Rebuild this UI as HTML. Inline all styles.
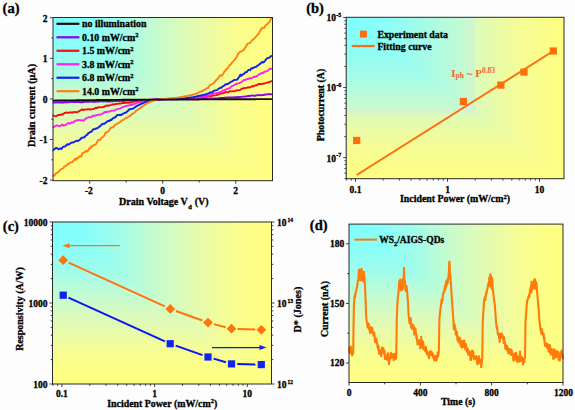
<!DOCTYPE html><html><head><meta charset="utf-8"><title>Figure</title><style>html,body{margin:0;padding:0;background:#fdfdfd;}body{width:575px;height:410px;overflow:hidden;font-family:"Liberation Serif",serif;}svg{display:block;}</style></head><body><svg width="575" height="410" viewBox="0 0 575 410" font-family='"Liberation Serif", serif'>
<defs>
<linearGradient id="gah" gradientUnits="userSpaceOnUse" x1="53" y1="0" x2="272.5" y2="0"><stop offset="0" stop-color="#80ffff"/><stop offset="0.15" stop-color="#88fef9"/><stop offset="0.3" stop-color="#a0fceb"/><stop offset="0.44" stop-color="#c0fcd4"/><stop offset="0.55" stop-color="#d6fbc1"/><stop offset="0.65" stop-color="#e4fbb0"/><stop offset="0.75" stop-color="#f1fc9d"/><stop offset="0.85" stop-color="#fafe8c"/><stop offset="1" stop-color="#ffff80"/></linearGradient>
<linearGradient id="gav" gradientUnits="userSpaceOnUse" x1="0" y1="17.5" x2="0" y2="180.7"><stop offset="0" stop-color="#80ffff"/><stop offset="0.15" stop-color="#88fef9"/><stop offset="0.3" stop-color="#a0fceb"/><stop offset="0.44" stop-color="#c0fcd4"/><stop offset="0.55" stop-color="#d6fbc1"/><stop offset="0.65" stop-color="#e4fbb0"/><stop offset="0.75" stop-color="#f1fc9d"/><stop offset="0.85" stop-color="#fafe8c"/><stop offset="1" stop-color="#ffff80"/></linearGradient>
<linearGradient id="gbh" gradientUnits="userSpaceOnUse" x1="346.2" y1="0" x2="564" y2="0"><stop offset="0" stop-color="#80ffff"/><stop offset="0.15" stop-color="#88fefa"/><stop offset="0.3" stop-color="#9cfcee"/><stop offset="0.45" stop-color="#b4fbde"/><stop offset="0.585" stop-color="#ccfacb"/><stop offset="0.595" stop-color="#dbfbbb"/><stop offset="0.7" stop-color="#ebfba5"/><stop offset="0.8" stop-color="#f5fc96"/><stop offset="0.9" stop-color="#fafd8a"/><stop offset="1" stop-color="#fefe82"/></linearGradient>
<linearGradient id="gbv" gradientUnits="userSpaceOnUse" x1="0" y1="17.3" x2="0" y2="178.7"><stop offset="0" stop-color="#80ffff"/><stop offset="0.15" stop-color="#88fefa"/><stop offset="0.3" stop-color="#9cfcee"/><stop offset="0.45" stop-color="#b4fbde"/><stop offset="0.585" stop-color="#ccfacb"/><stop offset="0.595" stop-color="#dbfbbb"/><stop offset="0.7" stop-color="#ebfba5"/><stop offset="0.8" stop-color="#f5fc96"/><stop offset="0.9" stop-color="#fafd8a"/><stop offset="1" stop-color="#fefe82"/></linearGradient>
<linearGradient id="gch" gradientUnits="userSpaceOnUse" x1="52.5" y1="0" x2="271.5" y2="0"><stop offset="0" stop-color="#80ffff"/><stop offset="0.15" stop-color="#88fef9"/><stop offset="0.3" stop-color="#a0fceb"/><stop offset="0.44" stop-color="#c0fcd4"/><stop offset="0.55" stop-color="#d6fbc1"/><stop offset="0.65" stop-color="#e4fbb0"/><stop offset="0.75" stop-color="#f1fc9d"/><stop offset="0.85" stop-color="#fafe8c"/><stop offset="1" stop-color="#ffff80"/></linearGradient>
<linearGradient id="gcv" gradientUnits="userSpaceOnUse" x1="0" y1="222" x2="0" y2="384"><stop offset="0" stop-color="#80ffff"/><stop offset="0.15" stop-color="#88fef9"/><stop offset="0.3" stop-color="#a0fceb"/><stop offset="0.44" stop-color="#c0fcd4"/><stop offset="0.55" stop-color="#d6fbc1"/><stop offset="0.65" stop-color="#e4fbb0"/><stop offset="0.75" stop-color="#f1fc9d"/><stop offset="0.85" stop-color="#fafe8c"/><stop offset="1" stop-color="#ffff80"/></linearGradient>
<linearGradient id="gdh" gradientUnits="userSpaceOnUse" x1="349" y1="0" x2="563" y2="0"><stop offset="0" stop-color="#80ffff"/><stop offset="0.15" stop-color="#88fef9"/><stop offset="0.3" stop-color="#a0fceb"/><stop offset="0.44" stop-color="#c0fcd4"/><stop offset="0.55" stop-color="#d6fbc1"/><stop offset="0.65" stop-color="#e4fbb0"/><stop offset="0.75" stop-color="#f1fc9d"/><stop offset="0.85" stop-color="#fafe8c"/><stop offset="1" stop-color="#ffff80"/></linearGradient>
<linearGradient id="gdv" gradientUnits="userSpaceOnUse" x1="0" y1="224.1" x2="0" y2="382.5"><stop offset="0" stop-color="#80ffff"/><stop offset="0.15" stop-color="#88fef9"/><stop offset="0.3" stop-color="#a0fceb"/><stop offset="0.44" stop-color="#c0fcd4"/><stop offset="0.55" stop-color="#d6fbc1"/><stop offset="0.65" stop-color="#e4fbb0"/><stop offset="0.75" stop-color="#f1fc9d"/><stop offset="0.85" stop-color="#fafe8c"/><stop offset="1" stop-color="#ffff80"/></linearGradient>
</defs>
<rect width="575" height="410" fill="#fdfdfd"/>
<rect x="53" y="17.5" width="219.5" height="163.2" fill="url(#gah)"/>
<polygon points="53,17.5 53,180.7 272.5,180.7" fill="url(#gav)"/>
<rect x="346.2" y="17.3" width="217.8" height="161.4" fill="url(#gbh)"/>
<polygon points="346.2,17.3 346.2,178.7 564,178.7" fill="url(#gbv)"/>
<rect x="52.5" y="222" width="219" height="162" fill="url(#gch)"/>
<polygon points="52.5,222 52.5,384 271.5,384" fill="url(#gcv)"/>
<rect x="349" y="224.1" width="214" height="158.4" fill="url(#gdh)"/>
<polygon points="349,224.1 349,382.5 563,382.5" fill="url(#gdv)"/>
<polyline points="471.3,17.8 471.3,111.3 346.7,111.3" fill="none" stroke="#e2e8da" stroke-opacity="0.35" stroke-width="6"/>
<polyline points="53.3,102.55 54.3,102.63 55.3,102.54 56.3,102.47 57.3,102.33 58.3,102.35 59.3,102.55 60.3,102.55 61.3,102.63 62.3,102.55 63.3,102.51 64.3,102.45 65.3,102.13 66.3,102.32 67.3,102.37 68.3,102.38 69.3,102.05 70.3,101.85 71.3,101.86 72.3,101.92 73.3,102.05 74.3,102.07 75.3,102.15 76.3,102.01 77.3,102.07 78.3,102.1 79.3,101.95 80.3,102.22 81.3,102.18 82.3,102.24 83.3,102 84.3,101.83 85.3,101.79 86.3,101.8 87.3,101.9 88.3,101.89 89.3,101.77 90.3,101.61 91.3,101.58 92.3,101.82 93.3,101.63 94.3,101.68 95.3,101.71 96.3,101.46 97.3,101.52 98.3,101.71 99.3,101.36 100.3,101.38 101.3,101.41 102.3,101.33 103.3,101.44 104.3,101.41 105.3,101.22 106.3,101.38 107.3,101.43 108.3,101.48 109.3,101.54 110.3,101.45 111.3,101.35 112.3,101.14 113.3,101.21 114.3,101.11 115.3,101.06 116.3,100.94 117.3,100.89 118.3,100.89 119.3,101.04 120.3,100.82 121.3,100.73 122.3,100.81 123.3,100.94 124.3,100.92 125.3,100.71 126.3,100.53 127.3,100.63 128.3,100.59 129.3,100.53 130.3,100.62 131.3,100.65 132.3,100.6 133.3,100.56 134.3,100.53 135.3,100.55 136.3,100.5 137.3,100.45 138.3,100.4 139.3,100.26 140.3,100.29 141.3,100.28 142.3,100.24 143.3,100.1 144.3,100.06 145.3,100.08 146.3,99.98 147.3,99.97 148.3,99.97 149.3,99.9 150.3,99.92 151.3,99.88 152.3,99.84 153.3,99.8 154.3,99.77 155.3,99.74 156.3,99.71 157.3,99.67 158.3,99.64 159.3,99.61 160.3,99.58 161.3,99.55 162.3,99.52 163.3,99.49 164.3,99.47 165.3,99.44 166.3,99.42 167.3,99.39 168.3,99.37 169.3,99.34 170.3,99.32 171.3,99.3 172.3,99.28 173.3,99.26 174.3,99.24 175.3,99.22 176.3,99.2 177.3,99.18 178.3,99.16 179.3,99.15 180.3,99.13 181.3,99.11 182.3,99.09 183.3,99.08 184.3,99.06 185.3,99.04 186.3,99.03 187.3,99.02 188.3,99 189.3,98.98 190.3,98.95 191.3,98.94 192.3,98.94 193.3,98.91 194.3,98.9 195.3,98.93 196.3,98.81 197.3,98.78 198.3,98.8 199.3,98.8 200.3,98.79 201.3,98.75 202.3,98.77 203.3,98.75 204.3,98.69 205.3,98.81 206.3,98.75 207.3,98.66 208.3,98.62 209.3,98.58 210.3,98.56 211.3,98.35 212.3,98.37 213.3,98.49 214.3,98.36 215.3,98.35 216.3,98.4 217.3,98.39 218.3,98.42 219.3,98.11 220.3,98.03 221.3,97.95 222.3,97.97 223.3,98.01 224.3,97.6 225.3,97.75 226.3,97.53 227.3,97.61 228.3,97.38 229.3,97.42 230.3,97.53 231.3,97.4 232.3,97.35 233.3,97.37 234.3,97.26 235.3,97.14 236.3,97.27 237.3,97.24 238.3,97.01 239.3,97.29 240.3,96.84 241.3,96.87 242.3,96.67 243.3,96.59 244.3,96.59 245.3,96.48 246.3,96.45 247.3,96.07 248.3,95.82 249.3,95.96 250.3,95.77 251.3,95.61 252.3,95.41 253.3,95.68 254.3,95.7 255.3,95.78 256.3,95.42 257.3,95.32 258.3,95.06 259.3,95.15 260.3,95.29 261.3,94.94 262.3,95.08 263.3,95.03 264.3,94.78 265.3,94.34 266.3,94.55 267.3,94.41 268.3,94.21 269.3,94.21 270.3,94.17 271.3,94.27" fill="none" stroke="#8a00f0" stroke-width="1.9" stroke-linejoin="round" stroke-linecap="round" />
<polyline points="53.3,115.58 54.3,115.94 55.3,116.17 56.3,116.19 57.3,115.54 58.3,114.89 59.3,115.05 60.3,114.74 61.3,114.47 62.3,114.69 63.3,114.13 64.3,113.02 65.3,112.98 66.3,112.36 67.3,112.86 68.3,112.88 69.3,112.47 70.3,112.37 71.3,112.53 72.3,112.27 73.3,112.48 74.3,112.02 75.3,112.08 76.3,112.2 77.3,112.22 78.3,111.36 79.3,111.36 80.3,110.32 81.3,109.95 82.3,109.37 83.3,110.04 84.3,109.53 85.3,109.61 86.3,109.51 87.3,109.45 88.3,109.14 89.3,109.19 90.3,109.69 91.3,109.27 92.3,109.13 93.3,109.14 94.3,108.66 95.3,107.96 96.3,107.73 97.3,108.04 98.3,107.26 99.3,107.08 100.3,107.39 101.3,107.4 102.3,107.08 103.3,107.05 104.3,106.75 105.3,106.13 106.3,105.6 107.3,105.48 108.3,105.74 109.3,105.41 110.3,105.07 111.3,104.84 112.3,104.45 113.3,104.51 114.3,104.22 115.3,104.34 116.3,103.73 117.3,103.93 118.3,103.76 119.3,103.33 120.3,103.58 121.3,103.45 122.3,102.93 123.3,102.85 124.3,102.96 125.3,102.81 126.3,102.88 127.3,102.85 128.3,102.74 129.3,102.56 130.3,102.54 131.3,102.35 132.3,102.15 133.3,101.62 134.3,101.66 135.3,101.66 136.3,101.4 137.3,101.16 138.3,101.24 139.3,100.82 140.3,100.76 141.3,100.85 142.3,100.53 143.3,100.45 144.3,100.44 145.3,100.23 146.3,100.12 147.3,100.04 148.3,99.84 149.3,99.75 150.3,99.68 151.3,99.64 152.3,99.55 153.3,99.47 154.3,99.38 155.3,99.33 156.3,99.31 157.3,99.27 158.3,99.22 159.3,99.19 160.3,99.16 161.3,99.14 162.3,99.11 163.3,99.09 164.3,99.07 165.3,99.06 166.3,99.04 167.3,99.03 168.3,99.02 169.3,99.01 170.3,99 171.3,99 172.3,98.99 173.3,98.98 174.3,98.97 175.3,98.97 176.3,98.96 177.3,98.94 178.3,98.93 179.3,98.91 180.3,98.89 181.3,98.88 182.3,98.86 183.3,98.84 184.3,98.83 185.3,98.8 186.3,98.8 187.3,98.78 188.3,98.78 189.3,98.74 190.3,98.65 191.3,98.61 192.3,98.45 193.3,98.39 194.3,98.34 195.3,98.31 196.3,98.14 197.3,98.04 198.3,97.97 199.3,97.86 200.3,97.76 201.3,97.61 202.3,97.4 203.3,97.35 204.3,97.17 205.3,96.9 206.3,96.71 207.3,96.62 208.3,96.48 209.3,96.37 210.3,96.2 211.3,96.06 212.3,95.83 213.3,95.41 214.3,95.38 215.3,95.39 216.3,95.18 217.3,94.85 218.3,94.69 219.3,94.2 220.3,93.62 221.3,93.62 222.3,93.29 223.3,93.39 224.3,92.9 225.3,92.12 226.3,91.98 227.3,92.48 228.3,92.12 229.3,91.54 230.3,91.27 231.3,91.38 232.3,91.32 233.3,91.08 234.3,91.22 235.3,90.95 236.3,90.45 237.3,90.26 238.3,90.38 239.3,90.11 240.3,89.86 241.3,88.87 242.3,88.53 243.3,88.53 244.3,88.04 245.3,88.13 246.3,87.88 247.3,87.72 248.3,87.12 249.3,87.62 250.3,87.32 251.3,86.52 252.3,86.07 253.3,86.58 254.3,85.72 255.3,85.56 256.3,85.41 257.3,84.89 258.3,84.09 259.3,84.03 260.3,83.97 261.3,84.11 262.3,83.97 263.3,83.54 264.3,83.5 265.3,83.27 266.3,82.94 267.3,82.6 268.3,82.21 269.3,82.23 270.3,81.53 271.3,81.19" fill="none" stroke="#f01010" stroke-width="1.9" stroke-linejoin="round" stroke-linecap="round" />
<polyline points="53.3,127.43 54.3,126.52 55.3,126.38 56.3,125.48 57.3,125.48 58.3,125.93 59.3,126.08 60.3,125.77 61.3,125.41 62.3,124.57 63.3,125.46 64.3,125.25 65.3,125.29 66.3,124.31 67.3,123.97 68.3,122.93 69.3,123.42 70.3,123.64 71.3,122.36 72.3,122.37 73.3,122.56 74.3,121.46 75.3,120.7 76.3,120.5 77.3,120.45 78.3,119.94 79.3,120.17 80.3,120.26 81.3,120.35 82.3,120.29 83.3,120.48 84.3,120.29 85.3,118.94 86.3,118.41 87.3,117.74 88.3,117.22 89.3,117.24 90.3,117.16 91.3,117.19 92.3,116.15 93.3,115.6 94.3,115.7 95.3,115.55 96.3,115.29 97.3,115.11 98.3,114.61 99.3,114.79 100.3,114.62 101.3,114.22 102.3,113.65 103.3,113.4 104.3,112.2 105.3,112.05 106.3,112.2 107.3,111.62 108.3,111.75 109.3,111.67 110.3,110.99 111.3,110.85 112.3,110.61 113.3,110.58 114.3,110.46 115.3,110.04 116.3,109.43 117.3,109.15 118.3,108.86 119.3,108.75 120.3,108.42 121.3,107.83 122.3,107.2 123.3,106.94 124.3,106.57 125.3,106.13 126.3,105.98 127.3,105.67 128.3,105.49 129.3,105.33 130.3,104.92 131.3,105.07 132.3,104.51 133.3,104.32 134.3,103.91 135.3,103.71 136.3,102.91 137.3,102.6 138.3,102.46 139.3,102.3 140.3,102.31 141.3,101.94 142.3,101.74 143.3,101.46 144.3,101.23 145.3,100.97 146.3,100.68 147.3,100.52 148.3,100.23 149.3,100.19 150.3,99.96 151.3,99.86 152.3,99.85 153.3,99.68 154.3,99.57 155.3,99.51 156.3,99.42 157.3,99.33 158.3,99.28 159.3,99.23 160.3,99.19 161.3,99.15 162.3,99.12 163.3,99.09 164.3,99.07 165.3,99.05 166.3,99.03 167.3,99.02 168.3,99.01 169.3,99 170.3,99 171.3,99 172.3,98.99 173.3,98.99 174.3,98.98 175.3,98.98 176.3,98.97 177.3,98.95 178.3,98.94 179.3,98.92 180.3,98.89 181.3,98.87 182.3,98.84 183.3,98.81 184.3,98.79 185.3,98.75 186.3,98.72 187.3,98.65 188.3,98.66 189.3,98.64 190.3,98.5 191.3,98.36 192.3,98.22 193.3,98.27 194.3,98.13 195.3,98.02 196.3,97.87 197.3,97.73 198.3,97.47 199.3,97.36 200.3,97.03 201.3,96.92 202.3,96.82 203.3,96.69 204.3,96.4 205.3,96.01 206.3,95.84 207.3,95.5 208.3,95.57 209.3,95.33 210.3,94.89 211.3,94.45 212.3,94.02 213.3,93.61 214.3,93.41 215.3,93.35 216.3,93.24 217.3,93.04 218.3,93.16 219.3,92.29 220.3,91.83 221.3,92.21 222.3,90.87 223.3,90.35 224.3,90.09 225.3,89.76 226.3,89.47 227.3,88.89 228.3,88.58 229.3,88.09 230.3,87.87 231.3,86.55 232.3,85.95 233.3,85.71 234.3,84.92 235.3,84.23 236.3,84.28 237.3,83.52 238.3,83.41 239.3,83.16 240.3,82.61 241.3,82.18 242.3,81.46 243.3,80.28 244.3,80.07 245.3,80 246.3,79.34 247.3,79.01 248.3,79.04 249.3,78.16 250.3,78.19 251.3,78.59 252.3,77.55 253.3,77.12 254.3,76.56 255.3,76.82 256.3,76.21 257.3,75.95 258.3,74.9 259.3,74.42 260.3,73.97 261.3,72.72 262.3,73.28 263.3,73.13 264.3,71.65 265.3,71.75 266.3,71.19 267.3,70.93 268.3,70.51 269.3,69.16 270.3,68.7 271.3,68.93" fill="none" stroke="#ff22ee" stroke-width="1.9" stroke-linejoin="round" stroke-linecap="round" />
<polyline points="53.3,150.14 54.3,149.28 55.3,148.44 56.3,147.9 57.3,148.37 58.3,149.28 59.3,148.85 60.3,148.34 61.3,149.09 62.3,147.69 63.3,146.65 64.3,146.63 65.3,146.46 66.3,145.24 67.3,144.3 68.3,144.47 69.3,144.34 70.3,143.13 71.3,142.92 72.3,142.39 73.3,142.47 74.3,141.94 75.3,141.42 76.3,140.73 77.3,140.94 78.3,141 79.3,139.72 80.3,139.47 81.3,138.1 82.3,137.57 83.3,137.41 84.3,137.49 85.3,136.12 86.3,135.26 87.3,134.67 88.3,133.04 89.3,132.77 90.3,131.92 91.3,131.79 92.3,130.55 93.3,129.1 94.3,129.2 95.3,129.1 96.3,128.31 97.3,128.37 98.3,127.48 99.3,126.51 100.3,126.25 101.3,124.76 102.3,124.1 103.3,123.77 104.3,123.71 105.3,122.9 106.3,122.38 107.3,121.36 108.3,120.95 109.3,121.05 110.3,119.8 111.3,120.16 112.3,118.82 113.3,118.11 114.3,117.55 115.3,117.35 116.3,116.15 117.3,114.97 118.3,115.12 119.3,115.06 120.3,114.76 121.3,115.07 122.3,114.21 123.3,113.56 124.3,113.19 125.3,112.61 126.3,112.44 127.3,111.29 128.3,110.67 129.3,109.26 130.3,109.38 131.3,108.89 132.3,108.69 133.3,108.6 134.3,107.8 135.3,107.06 136.3,106.36 137.3,105.67 138.3,105.09 139.3,104.79 140.3,104.29 141.3,103.8 142.3,103.3 143.3,102.99 144.3,102.58 145.3,102.1 146.3,101.78 147.3,101.37 148.3,100.91 149.3,100.79 150.3,100.53 151.3,100.17 152.3,100.04 153.3,99.84 154.3,99.59 155.3,99.55 156.3,99.45 157.3,99.39 158.3,99.32 159.3,99.26 160.3,99.22 161.3,99.18 162.3,99.14 163.3,99.09 164.3,99.04 165.3,98.99 166.3,98.95 167.3,98.91 168.3,98.88 169.3,98.84 170.3,98.81 171.3,98.78 172.3,98.75 173.3,98.72 174.3,98.69 175.3,98.65 176.3,98.62 177.3,98.58 178.3,98.54 179.3,98.5 180.3,98.45 181.3,98.4 182.3,98.34 183.3,98.28 184.3,98.21 185.3,98.14 186.3,98.08 187.3,97.95 188.3,97.83 189.3,97.74 190.3,97.55 191.3,97.47 192.3,97.36 193.3,97.15 194.3,97.03 195.3,96.66 196.3,96.62 197.3,96.21 198.3,95.99 199.3,95.77 200.3,95.56 201.3,95.53 202.3,95.25 203.3,94.86 204.3,94.68 205.3,94.66 206.3,94.14 207.3,93.77 208.3,93.61 209.3,93.11 210.3,92.23 211.3,92.6 212.3,92.57 213.3,91.11 214.3,90.69 215.3,90.4 216.3,90.22 217.3,89.81 218.3,89.04 219.3,88.1 220.3,87.79 221.3,87.76 222.3,86.69 223.3,85.9 224.3,85.65 225.3,84.49 226.3,84.34 227.3,83.94 228.3,83.89 229.3,83.06 230.3,82.22 231.3,81.7 232.3,81.29 233.3,80.44 234.3,80.03 235.3,79.89 236.3,79.75 237.3,79.66 238.3,77.91 239.3,76.84 240.3,74.73 241.3,75.87 242.3,74.63 243.3,74.07 244.3,73.81 245.3,72.24 246.3,72.19 247.3,71.57 248.3,69.86 249.3,69.9 250.3,70.18 251.3,68.21 252.3,68.44 253.3,67.92 254.3,67.5 255.3,66.96 256.3,66.9 257.3,65.67 258.3,65.38 259.3,64.17 260.3,63.92 261.3,62.57 262.3,61.97 263.3,62.46 264.3,61.66 265.3,60.55 266.3,59.04 267.3,58.1 268.3,57.83 269.3,57.67 270.3,56.8 271.3,55.92" fill="none" stroke="#1020f0" stroke-width="1.9" stroke-linejoin="round" stroke-linecap="round" />
<polyline points="53.3,175.54 54.3,175.71 55.3,174.23 56.3,172.95 57.3,172.9 58.3,171.94 59.3,170.82 60.3,169.65 61.3,168.88 62.3,168.74 63.3,168.14 64.3,166.38 65.3,166.24 66.3,165.66 67.3,164.2 68.3,164.31 69.3,163.31 70.3,162.4 71.3,162.37 72.3,162.39 73.3,160.66 74.3,160.17 75.3,158.64 76.3,159.72 77.3,158.02 78.3,157.95 79.3,156.31 80.3,156.1 81.3,156.65 82.3,153.31 83.3,152.62 84.3,152.57 85.3,151.8 86.3,150.64 87.3,151.64 88.3,150.39 89.3,148.16 90.3,148.32 91.3,146.25 92.3,146.74 93.3,145.44 94.3,144.83 95.3,144.84 96.3,143.66 97.3,141.61 98.3,139.84 99.3,140.2 100.3,139.65 101.3,137.93 102.3,137.49 103.3,136.55 104.3,135.64 105.3,133.04 106.3,132.23 107.3,131.98 108.3,131.29 109.3,130.56 110.3,128.04 111.3,127.58 112.3,127.12 113.3,127.48 114.3,125.71 115.3,124.73 116.3,124.07 117.3,123.8 118.3,122.83 119.3,122.7 120.3,121.59 121.3,121.15 122.3,120.36 123.3,119.93 124.3,119.12 125.3,118.09 126.3,118.18 127.3,117.66 128.3,116.77 129.3,116.19 130.3,115.78 131.3,114.64 132.3,113.92 133.3,113.37 134.3,112.71 135.3,111.78 136.3,110.51 137.3,110.27 138.3,109.59 139.3,108.82 140.3,108.02 141.3,107.38 142.3,106.61 143.3,105.8 144.3,105.12 145.3,104.5 146.3,103.9 147.3,103.24 148.3,102.87 149.3,102.23 150.3,101.88 151.3,101.35 152.3,101.02 153.3,100.77 154.3,100.45 155.3,100.13 156.3,99.92 157.3,99.74 158.3,99.56 159.3,99.43 160.3,99.31 161.3,99.2 162.3,99.08 163.3,98.96 164.3,98.86 165.3,98.78 166.3,98.72 167.3,98.67 168.3,98.62 169.3,98.57 170.3,98.52 171.3,98.46 172.3,98.37 173.3,98.26 174.3,98.14 175.3,98 176.3,97.86 177.3,97.7 178.3,97.54 179.3,97.37 180.3,97.19 181.3,97.01 182.3,96.83 183.3,96.64 184.3,96.46 185.3,96.28 186.3,96.11 187.3,95.94 188.3,95.73 189.3,95.56 190.3,95.18 191.3,95.06 192.3,94.83 193.3,94.53 194.3,94.15 195.3,93.95 196.3,93.54 197.3,93.26 198.3,92.81 199.3,92.06 200.3,91.82 201.3,91.51 202.3,91.2 203.3,90.38 204.3,89.82 205.3,89.34 206.3,88.61 207.3,88.15 208.3,87.76 209.3,86.32 210.3,84.8 211.3,84.46 212.3,84.12 213.3,83.35 214.3,82.49 215.3,81.08 216.3,79.83 217.3,79.35 218.3,77.91 219.3,76.28 220.3,75.25 221.3,75.79 222.3,75.37 223.3,73.43 224.3,71.78 225.3,70.78 226.3,69.15 227.3,68.76 228.3,67.25 229.3,65.32 230.3,65.09 231.3,63.4 232.3,62.43 233.3,61.26 234.3,59.93 235.3,59.11 236.3,57.51 237.3,55.38 238.3,53.45 239.3,52.5 240.3,51.81 241.3,51.44 242.3,50.79 243.3,50.28 244.3,49.19 245.3,47.45 246.3,46.05 247.3,43.8 248.3,43.42 249.3,43.16 250.3,42.55 251.3,41.25 252.3,39.99 253.3,39.57 254.3,38.18 255.3,37.4 256.3,36.35 257.3,34.98 258.3,34.45 259.3,32.32 260.3,30.76 261.3,29.05 262.3,27.59 263.3,27.91 264.3,27.71 265.3,25.87 266.3,24.74 267.3,24.06 268.3,22.96 269.3,22.26 270.3,19.79 271.3,18.5" fill="none" stroke="#ff7f10" stroke-width="1.9" stroke-linejoin="round" stroke-linecap="round" />
<polyline points="53.3,100.6 54.3,100.58 55.3,100.57 56.3,100.56 57.3,100.55 58.3,100.54 59.3,100.52 60.3,100.51 61.3,100.5 62.3,100.49 63.3,100.48 64.3,100.46 65.3,100.45 66.3,100.44 67.3,100.43 68.3,100.41 69.3,100.4 70.3,100.39 71.3,100.38 72.3,100.36 73.3,100.35 74.3,100.34 75.3,100.33 76.3,100.31 77.3,100.3 78.3,100.29 79.3,100.28 80.3,100.26 81.3,100.25 82.3,100.24 83.3,100.23 84.3,100.21 85.3,100.2 86.3,100.19 87.3,100.18 88.3,100.17 89.3,100.15 90.3,100.14 91.3,100.13 92.3,100.12 93.3,100.11 94.3,100.1 95.3,100.08 96.3,100.07 97.3,100.06 98.3,100.05 99.3,100.04 100.3,100.03 101.3,100.02 102.3,100.01 103.3,100 104.3,99.99 105.3,99.97 106.3,99.96 107.3,99.95 108.3,99.94 109.3,99.93 110.3,99.93 111.3,99.92 112.3,99.91 113.3,99.9 114.3,99.89 115.3,99.88 116.3,99.87 117.3,99.86 118.3,99.85 119.3,99.85 120.3,99.84 121.3,99.83 122.3,99.82 123.3,99.82 124.3,99.81 125.3,99.8 126.3,99.8 127.3,99.79 128.3,99.78 129.3,99.78 130.3,99.77 131.3,99.76 132.3,99.76 133.3,99.75 134.3,99.75 135.3,99.74 136.3,99.73 137.3,99.73 138.3,99.72 139.3,99.72 140.3,99.71 141.3,99.71 142.3,99.7 143.3,99.7 144.3,99.69 145.3,99.69 146.3,99.68 147.3,99.68 148.3,99.67 149.3,99.67 150.3,99.66 151.3,99.66 152.3,99.65 153.3,99.65 154.3,99.64 155.3,99.64 156.3,99.63 157.3,99.63 158.3,99.62 159.3,99.62 160.3,99.61 161.3,99.61 162.3,99.6 163.3,99.6 164.3,99.59 165.3,99.59 166.3,99.58 167.3,99.58 168.3,99.57 169.3,99.57 170.3,99.56 171.3,99.56 172.3,99.55 173.3,99.55 174.3,99.54 175.3,99.54 176.3,99.53 177.3,99.53 178.3,99.52 179.3,99.52 180.3,99.52 181.3,99.51 182.3,99.51 183.3,99.5 184.3,99.5 185.3,99.49 186.3,99.49 187.3,99.48 188.3,99.48 189.3,99.47 190.3,99.47 191.3,99.46 192.3,99.46 193.3,99.45 194.3,99.45 195.3,99.45 196.3,99.44 197.3,99.44 198.3,99.43 199.3,99.43 200.3,99.42 201.3,99.42 202.3,99.41 203.3,99.41 204.3,99.4 205.3,99.4 206.3,99.4 207.3,99.39 208.3,99.39 209.3,99.38 210.3,99.38 211.3,99.37 212.3,99.37 213.3,99.36 214.3,99.36 215.3,99.35 216.3,99.35 217.3,99.35 218.3,99.34 219.3,99.34 220.3,99.33 221.3,99.33 222.3,99.32 223.3,99.32 224.3,99.31 225.3,99.31 226.3,99.31 227.3,99.3 228.3,99.3 229.3,99.29 230.3,99.29 231.3,99.28 232.3,99.28 233.3,99.27 234.3,99.27 235.3,99.27 236.3,99.26 237.3,99.26 238.3,99.25 239.3,99.25 240.3,99.24 241.3,99.24 242.3,99.23 243.3,99.23 244.3,99.23 245.3,99.22 246.3,99.22 247.3,99.21 248.3,99.21 249.3,99.2 250.3,99.2 251.3,99.19 252.3,99.19 253.3,99.19 254.3,99.18 255.3,99.18 256.3,99.17 257.3,99.17 258.3,99.16 259.3,99.16 260.3,99.15 261.3,99.15 262.3,99.15 263.3,99.14 264.3,99.14 265.3,99.13 266.3,99.13 267.3,99.12 268.3,99.12 269.3,99.11 270.3,99.11 271.3,99.11" fill="none" stroke="#101010" stroke-width="1.9" stroke-linejoin="round" stroke-linecap="round" />
<line x1="56.5" y1="23.8" x2="79.4" y2="23.8" stroke="#101010" stroke-width="2.2"/>
<text x="82" y="27.2" font-size="9.9" text-anchor="start" fill="#000" stroke="#000" stroke-width="0.3" font-weight="bold" >no illumination</text>
<line x1="56.5" y1="37.28" x2="79.4" y2="37.28" stroke="#8a00f0" stroke-width="2.2"/>
<text x="82" y="40.68" font-size="9.9" text-anchor="start" fill="#000" stroke="#000" stroke-width="0.3" font-weight="bold" >0.10 mW/cm<tspan dy="-3.5" font-size="6.5">2</tspan></text>
<line x1="56.5" y1="50.76" x2="79.4" y2="50.76" stroke="#f01010" stroke-width="2.2"/>
<text x="82" y="54.16" font-size="9.9" text-anchor="start" fill="#000" stroke="#000" stroke-width="0.3" font-weight="bold" >1.5 mW/cm<tspan dy="-3.5" font-size="6.5">2</tspan></text>
<line x1="56.5" y1="64.24" x2="79.4" y2="64.24" stroke="#ff22ee" stroke-width="2.2"/>
<text x="82" y="67.64" font-size="9.9" text-anchor="start" fill="#000" stroke="#000" stroke-width="0.3" font-weight="bold" >3.8 mW/cm<tspan dy="-3.5" font-size="6.5">2</tspan></text>
<line x1="56.5" y1="77.72" x2="79.4" y2="77.72" stroke="#1020f0" stroke-width="2.2"/>
<text x="82" y="81.12" font-size="9.9" text-anchor="start" fill="#000" stroke="#000" stroke-width="0.3" font-weight="bold" >6.8 mW/cm<tspan dy="-3.5" font-size="6.5">2</tspan></text>
<line x1="56.5" y1="91.2" x2="79.4" y2="91.2" stroke="#ff7f10" stroke-width="2.2"/>
<text x="82" y="94.6" font-size="9.9" text-anchor="start" fill="#000" stroke="#000" stroke-width="0.3" font-weight="bold" >14.0 mW/cm<tspan dy="-3.5" font-size="6.5">2</tspan></text>
<line x1="50" y1="180.1" x2="53" y2="180.1" stroke="#2a2a2a" stroke-width="0.9"/>
<text x="47.4" y="184" font-size="9.5" text-anchor="end" fill="#000" stroke="#000" stroke-width="0.3" font-weight="bold" >-2</text>
<line x1="50" y1="139.5" x2="53" y2="139.5" stroke="#2a2a2a" stroke-width="0.9"/>
<text x="47.4" y="143.4" font-size="9.5" text-anchor="end" fill="#000" stroke="#000" stroke-width="0.3" font-weight="bold" >-1</text>
<line x1="50" y1="98.9" x2="53" y2="98.9" stroke="#2a2a2a" stroke-width="0.9"/>
<text x="47.4" y="102.8" font-size="9.5" text-anchor="end" fill="#000" stroke="#000" stroke-width="0.3" font-weight="bold" >0</text>
<line x1="50" y1="58.3" x2="53" y2="58.3" stroke="#2a2a2a" stroke-width="0.9"/>
<text x="47.4" y="62.2" font-size="9.5" text-anchor="end" fill="#000" stroke="#000" stroke-width="0.3" font-weight="bold" >1</text>
<line x1="50" y1="17.7" x2="53" y2="17.7" stroke="#2a2a2a" stroke-width="0.9"/>
<text x="47.4" y="21.6" font-size="9.5" text-anchor="end" fill="#000" stroke="#000" stroke-width="0.3" font-weight="bold" >2</text>
<line x1="51.2" y1="159.8" x2="53" y2="159.8" stroke="#2a2a2a" stroke-width="0.9"/>
<line x1="51.2" y1="119.2" x2="53" y2="119.2" stroke="#2a2a2a" stroke-width="0.9"/>
<line x1="51.2" y1="78.6" x2="53" y2="78.6" stroke="#2a2a2a" stroke-width="0.9"/>
<line x1="51.2" y1="38" x2="53" y2="38" stroke="#2a2a2a" stroke-width="0.9"/>
<line x1="89.7" y1="180.7" x2="89.7" y2="183.7" stroke="#2a2a2a" stroke-width="0.9"/>
<text x="88.9" y="194.4" font-size="9.5" text-anchor="middle" fill="#000" stroke="#000" stroke-width="0.3" font-weight="bold" >-2</text>
<line x1="162.7" y1="180.7" x2="162.7" y2="183.7" stroke="#2a2a2a" stroke-width="0.9"/>
<text x="162.7" y="194.4" font-size="9.5" text-anchor="middle" fill="#000" stroke="#000" stroke-width="0.3" font-weight="bold" >0</text>
<line x1="235.7" y1="180.7" x2="235.7" y2="183.7" stroke="#2a2a2a" stroke-width="0.9"/>
<text x="235.7" y="194.4" font-size="9.5" text-anchor="middle" fill="#000" stroke="#000" stroke-width="0.3" font-weight="bold" >2</text>
<line x1="126.2" y1="180.7" x2="126.2" y2="182.5" stroke="#2a2a2a" stroke-width="0.9"/>
<line x1="199.2" y1="180.7" x2="199.2" y2="182.5" stroke="#2a2a2a" stroke-width="0.9"/>
<text x="163.8" y="205.4" font-size="10.0" text-anchor="middle" fill="#000" stroke="#000" stroke-width="0.3" font-weight="bold" >Drain Voltage V<tspan dx="0.4" dy="3.2" font-size="6.5">d</tspan><tspan dx="0.3" dy="-3.2"> (V)</tspan></text>
<text transform="translate(35 105.5) rotate(-90)" x="0" y="0" font-size="10.2" text-anchor="middle" fill="#000" stroke="#000" stroke-width="0.3" font-weight="bold">Drain current (&#956;A)</text>
<text x="2.6" y="13.1" font-size="14.5" text-anchor="start" fill="#000" stroke="#000" stroke-width="0.3" font-weight="bold" >(a)</text>
<line x1="343.2" y1="157.6" x2="346.2" y2="157.6" stroke="#2a2a2a" stroke-width="0.9"/>
<text x="341.2" y="161.5" font-size="9.5" text-anchor="end" fill="#000" stroke="#000" stroke-width="0.3" font-weight="bold" >10<tspan dx="0.3" dy="-4.3" font-size="6">-7</tspan></text>
<line x1="343.2" y1="87.55" x2="346.2" y2="87.55" stroke="#2a2a2a" stroke-width="0.9"/>
<text x="341.2" y="91.45" font-size="9.5" text-anchor="end" fill="#000" stroke="#000" stroke-width="0.3" font-weight="bold" >10<tspan dx="0.3" dy="-4.3" font-size="6">-6</tspan></text>
<line x1="343.2" y1="17.5" x2="346.2" y2="17.5" stroke="#2a2a2a" stroke-width="0.9"/>
<text x="341.2" y="21.4" font-size="9.5" text-anchor="end" fill="#000" stroke="#000" stroke-width="0.3" font-weight="bold" >10<tspan dx="0.3" dy="-4.3" font-size="6">-5</tspan></text>
<line x1="344.4" y1="178.69" x2="346.2" y2="178.69" stroke="#2a2a2a" stroke-width="0.9"/>
<line x1="344.4" y1="173.14" x2="346.2" y2="173.14" stroke="#2a2a2a" stroke-width="0.9"/>
<line x1="344.4" y1="168.45" x2="346.2" y2="168.45" stroke="#2a2a2a" stroke-width="0.9"/>
<line x1="344.4" y1="164.39" x2="346.2" y2="164.39" stroke="#2a2a2a" stroke-width="0.9"/>
<line x1="344.4" y1="160.81" x2="346.2" y2="160.81" stroke="#2a2a2a" stroke-width="0.9"/>
<line x1="344.4" y1="136.51" x2="346.2" y2="136.51" stroke="#2a2a2a" stroke-width="0.9"/>
<line x1="344.4" y1="124.18" x2="346.2" y2="124.18" stroke="#2a2a2a" stroke-width="0.9"/>
<line x1="344.4" y1="115.43" x2="346.2" y2="115.43" stroke="#2a2a2a" stroke-width="0.9"/>
<line x1="344.4" y1="108.64" x2="346.2" y2="108.64" stroke="#2a2a2a" stroke-width="0.9"/>
<line x1="344.4" y1="103.09" x2="346.2" y2="103.09" stroke="#2a2a2a" stroke-width="0.9"/>
<line x1="344.4" y1="98.4" x2="346.2" y2="98.4" stroke="#2a2a2a" stroke-width="0.9"/>
<line x1="344.4" y1="94.34" x2="346.2" y2="94.34" stroke="#2a2a2a" stroke-width="0.9"/>
<line x1="344.4" y1="90.76" x2="346.2" y2="90.76" stroke="#2a2a2a" stroke-width="0.9"/>
<line x1="344.4" y1="66.46" x2="346.2" y2="66.46" stroke="#2a2a2a" stroke-width="0.9"/>
<line x1="344.4" y1="54.13" x2="346.2" y2="54.13" stroke="#2a2a2a" stroke-width="0.9"/>
<line x1="344.4" y1="45.38" x2="346.2" y2="45.38" stroke="#2a2a2a" stroke-width="0.9"/>
<line x1="344.4" y1="38.59" x2="346.2" y2="38.59" stroke="#2a2a2a" stroke-width="0.9"/>
<line x1="344.4" y1="33.04" x2="346.2" y2="33.04" stroke="#2a2a2a" stroke-width="0.9"/>
<line x1="344.4" y1="28.35" x2="346.2" y2="28.35" stroke="#2a2a2a" stroke-width="0.9"/>
<line x1="344.4" y1="24.29" x2="346.2" y2="24.29" stroke="#2a2a2a" stroke-width="0.9"/>
<line x1="344.4" y1="20.71" x2="346.2" y2="20.71" stroke="#2a2a2a" stroke-width="0.9"/>
<line x1="355.5" y1="178.7" x2="355.5" y2="181.7" stroke="#2a2a2a" stroke-width="0.9"/>
<text x="355.5" y="192.6" font-size="9.5" text-anchor="middle" fill="#000" stroke="#000" stroke-width="0.3" font-weight="bold" >0.1</text>
<line x1="447.5" y1="178.7" x2="447.5" y2="181.7" stroke="#2a2a2a" stroke-width="0.9"/>
<text x="447.5" y="192.6" font-size="9.5" text-anchor="middle" fill="#000" stroke="#000" stroke-width="0.3" font-weight="bold" >1</text>
<line x1="539.5" y1="178.7" x2="539.5" y2="181.7" stroke="#2a2a2a" stroke-width="0.9"/>
<text x="539.5" y="192.6" font-size="9.5" text-anchor="middle" fill="#000" stroke="#000" stroke-width="0.3" font-weight="bold" >10</text>
<line x1="346.58" y1="178.7" x2="346.58" y2="180.5" stroke="#2a2a2a" stroke-width="0.9"/>
<line x1="351.29" y1="178.7" x2="351.29" y2="180.5" stroke="#2a2a2a" stroke-width="0.9"/>
<line x1="383.19" y1="178.7" x2="383.19" y2="180.5" stroke="#2a2a2a" stroke-width="0.9"/>
<line x1="399.4" y1="178.7" x2="399.4" y2="180.5" stroke="#2a2a2a" stroke-width="0.9"/>
<line x1="410.89" y1="178.7" x2="410.89" y2="180.5" stroke="#2a2a2a" stroke-width="0.9"/>
<line x1="419.81" y1="178.7" x2="419.81" y2="180.5" stroke="#2a2a2a" stroke-width="0.9"/>
<line x1="427.09" y1="178.7" x2="427.09" y2="180.5" stroke="#2a2a2a" stroke-width="0.9"/>
<line x1="433.25" y1="178.7" x2="433.25" y2="180.5" stroke="#2a2a2a" stroke-width="0.9"/>
<line x1="438.58" y1="178.7" x2="438.58" y2="180.5" stroke="#2a2a2a" stroke-width="0.9"/>
<line x1="443.29" y1="178.7" x2="443.29" y2="180.5" stroke="#2a2a2a" stroke-width="0.9"/>
<line x1="475.19" y1="178.7" x2="475.19" y2="180.5" stroke="#2a2a2a" stroke-width="0.9"/>
<line x1="491.4" y1="178.7" x2="491.4" y2="180.5" stroke="#2a2a2a" stroke-width="0.9"/>
<line x1="502.89" y1="178.7" x2="502.89" y2="180.5" stroke="#2a2a2a" stroke-width="0.9"/>
<line x1="511.81" y1="178.7" x2="511.81" y2="180.5" stroke="#2a2a2a" stroke-width="0.9"/>
<line x1="519.09" y1="178.7" x2="519.09" y2="180.5" stroke="#2a2a2a" stroke-width="0.9"/>
<line x1="525.25" y1="178.7" x2="525.25" y2="180.5" stroke="#2a2a2a" stroke-width="0.9"/>
<line x1="530.58" y1="178.7" x2="530.58" y2="180.5" stroke="#2a2a2a" stroke-width="0.9"/>
<line x1="535.29" y1="178.7" x2="535.29" y2="180.5" stroke="#2a2a2a" stroke-width="0.9"/>
<text x="455" y="202.4" font-size="9.9" text-anchor="middle" fill="#000" stroke="#000" stroke-width="0.3" font-weight="bold" >Incident Power (mW/cm<tspan dy="-3.5" font-size="6.5">2</tspan><tspan dy="3.5">)</tspan></text>
<text transform="translate(323.6 105) rotate(-90)" x="0" y="0" font-size="9.9" text-anchor="middle" fill="#000" stroke="#000" stroke-width="0.3" font-weight="bold">Photocurrent (A)</text>
<text x="306.2" y="12.9" font-size="14.5" text-anchor="start" fill="#000" stroke="#000" stroke-width="0.3" font-weight="bold" >(b)</text>
<line x1="356.7" y1="175" x2="553.3" y2="51" stroke="#ff6c0c" stroke-width="2.0"/>
<rect x="353.1" y="136.9" width="7.2" height="7.2" fill="#ff6c0c"/>
<rect x="459.8" y="97.9" width="7.2" height="7.2" fill="#ff6c0c"/>
<rect x="497.3" y="81.5" width="7.2" height="7.2" fill="#ff6c0c"/>
<rect x="520.3" y="68.5" width="7.2" height="7.2" fill="#ff6c0c"/>
<rect x="549.7" y="47.4" width="7.2" height="7.2" fill="#ff6c0c"/>
<rect x="359.9" y="30.6" width="7" height="7" fill="#ff6c0c"/>
<text x="377.4" y="37.7" font-size="9.8" text-anchor="start" fill="#000" stroke="#000" stroke-width="0.3" font-weight="bold" >Experiment data</text>
<line x1="351.7" y1="46" x2="374.7" y2="46" stroke="#ff6c0c" stroke-width="2.2"/>
<text x="377.4" y="49.6" font-size="9.8" text-anchor="start" fill="#000" stroke="#000" stroke-width="0.3" font-weight="bold" >Fitting curve</text>
<text x="451.2" y="76.6" font-size="11" text-anchor="start" fill="#f0682a" stroke="#f0682a" stroke-width="0.3" font-weight="bold" stroke-opacity="0">I<tspan dy="1.6" font-size="7.6">ph</tspan><tspan dy="-1.6"> ~ P</tspan><tspan dy="-3.3" font-size="7.6">0.83</tspan></text>
<line x1="49.5" y1="384" x2="52.5" y2="384" stroke="#2a2a2a" stroke-width="0.9"/>
<line x1="271.5" y1="384" x2="274.5" y2="384" stroke="#2a2a2a" stroke-width="0.9"/>
<line x1="49.5" y1="303" x2="52.5" y2="303" stroke="#2a2a2a" stroke-width="0.9"/>
<line x1="271.5" y1="303" x2="274.5" y2="303" stroke="#2a2a2a" stroke-width="0.9"/>
<line x1="49.5" y1="222" x2="52.5" y2="222" stroke="#2a2a2a" stroke-width="0.9"/>
<line x1="271.5" y1="222" x2="274.5" y2="222" stroke="#2a2a2a" stroke-width="0.9"/>
<line x1="50.7" y1="359.62" x2="52.5" y2="359.62" stroke="#2a2a2a" stroke-width="0.9"/>
<line x1="271.5" y1="359.62" x2="273.3" y2="359.62" stroke="#2a2a2a" stroke-width="0.9"/>
<line x1="50.7" y1="345.35" x2="52.5" y2="345.35" stroke="#2a2a2a" stroke-width="0.9"/>
<line x1="271.5" y1="345.35" x2="273.3" y2="345.35" stroke="#2a2a2a" stroke-width="0.9"/>
<line x1="50.7" y1="335.23" x2="52.5" y2="335.23" stroke="#2a2a2a" stroke-width="0.9"/>
<line x1="271.5" y1="335.23" x2="273.3" y2="335.23" stroke="#2a2a2a" stroke-width="0.9"/>
<line x1="50.7" y1="327.38" x2="52.5" y2="327.38" stroke="#2a2a2a" stroke-width="0.9"/>
<line x1="271.5" y1="327.38" x2="273.3" y2="327.38" stroke="#2a2a2a" stroke-width="0.9"/>
<line x1="50.7" y1="320.97" x2="52.5" y2="320.97" stroke="#2a2a2a" stroke-width="0.9"/>
<line x1="271.5" y1="320.97" x2="273.3" y2="320.97" stroke="#2a2a2a" stroke-width="0.9"/>
<line x1="50.7" y1="315.55" x2="52.5" y2="315.55" stroke="#2a2a2a" stroke-width="0.9"/>
<line x1="271.5" y1="315.55" x2="273.3" y2="315.55" stroke="#2a2a2a" stroke-width="0.9"/>
<line x1="50.7" y1="310.85" x2="52.5" y2="310.85" stroke="#2a2a2a" stroke-width="0.9"/>
<line x1="271.5" y1="310.85" x2="273.3" y2="310.85" stroke="#2a2a2a" stroke-width="0.9"/>
<line x1="50.7" y1="306.71" x2="52.5" y2="306.71" stroke="#2a2a2a" stroke-width="0.9"/>
<line x1="271.5" y1="306.71" x2="273.3" y2="306.71" stroke="#2a2a2a" stroke-width="0.9"/>
<line x1="50.7" y1="278.62" x2="52.5" y2="278.62" stroke="#2a2a2a" stroke-width="0.9"/>
<line x1="271.5" y1="278.62" x2="273.3" y2="278.62" stroke="#2a2a2a" stroke-width="0.9"/>
<line x1="50.7" y1="264.35" x2="52.5" y2="264.35" stroke="#2a2a2a" stroke-width="0.9"/>
<line x1="271.5" y1="264.35" x2="273.3" y2="264.35" stroke="#2a2a2a" stroke-width="0.9"/>
<line x1="50.7" y1="254.23" x2="52.5" y2="254.23" stroke="#2a2a2a" stroke-width="0.9"/>
<line x1="271.5" y1="254.23" x2="273.3" y2="254.23" stroke="#2a2a2a" stroke-width="0.9"/>
<line x1="50.7" y1="246.38" x2="52.5" y2="246.38" stroke="#2a2a2a" stroke-width="0.9"/>
<line x1="271.5" y1="246.38" x2="273.3" y2="246.38" stroke="#2a2a2a" stroke-width="0.9"/>
<line x1="50.7" y1="239.97" x2="52.5" y2="239.97" stroke="#2a2a2a" stroke-width="0.9"/>
<line x1="271.5" y1="239.97" x2="273.3" y2="239.97" stroke="#2a2a2a" stroke-width="0.9"/>
<line x1="50.7" y1="234.55" x2="52.5" y2="234.55" stroke="#2a2a2a" stroke-width="0.9"/>
<line x1="271.5" y1="234.55" x2="273.3" y2="234.55" stroke="#2a2a2a" stroke-width="0.9"/>
<line x1="50.7" y1="229.85" x2="52.5" y2="229.85" stroke="#2a2a2a" stroke-width="0.9"/>
<line x1="271.5" y1="229.85" x2="273.3" y2="229.85" stroke="#2a2a2a" stroke-width="0.9"/>
<line x1="50.7" y1="225.71" x2="52.5" y2="225.71" stroke="#2a2a2a" stroke-width="0.9"/>
<line x1="271.5" y1="225.71" x2="273.3" y2="225.71" stroke="#2a2a2a" stroke-width="0.9"/>
<text x="47.5" y="225.8" font-size="9.5" text-anchor="end" fill="#000" stroke="#000" stroke-width="0.3" font-weight="bold" >10000</text>
<text x="47.5" y="306.8" font-size="9.5" text-anchor="end" fill="#000" stroke="#000" stroke-width="0.3" font-weight="bold" >1000</text>
<text x="47.5" y="387.8" font-size="9.5" text-anchor="end" fill="#000" stroke="#000" stroke-width="0.3" font-weight="bold" >100</text>
<text x="277" y="226.2" font-size="9.5" text-anchor="start" fill="#000" stroke="#000" stroke-width="0.3" font-weight="bold" >10<tspan dx="1" dy="-4.6" font-size="5.5">14</tspan></text>
<text x="277" y="307.2" font-size="9.5" text-anchor="start" fill="#000" stroke="#000" stroke-width="0.3" font-weight="bold" >10<tspan dx="1" dy="-4.6" font-size="5.5">13</tspan></text>
<text x="277" y="388.2" font-size="9.5" text-anchor="start" fill="#000" stroke="#000" stroke-width="0.3" font-weight="bold" >10<tspan dx="1" dy="-4.6" font-size="5.5">12</tspan></text>
<line x1="61.9" y1="384" x2="61.9" y2="387" stroke="#2a2a2a" stroke-width="0.9"/>
<text x="61.9" y="397.3" font-size="9.5" text-anchor="middle" fill="#000" stroke="#000" stroke-width="0.3" font-weight="bold" >0.1</text>
<line x1="154.6" y1="384" x2="154.6" y2="387" stroke="#2a2a2a" stroke-width="0.9"/>
<text x="154.6" y="397.3" font-size="9.5" text-anchor="middle" fill="#000" stroke="#000" stroke-width="0.3" font-weight="bold" >1</text>
<line x1="247.3" y1="384" x2="247.3" y2="387" stroke="#2a2a2a" stroke-width="0.9"/>
<text x="247.3" y="397.3" font-size="9.5" text-anchor="middle" fill="#000" stroke="#000" stroke-width="0.3" font-weight="bold" >10</text>
<line x1="52.92" y1="384" x2="52.92" y2="385.8" stroke="#2a2a2a" stroke-width="0.9"/>
<line x1="57.66" y1="384" x2="57.66" y2="385.8" stroke="#2a2a2a" stroke-width="0.9"/>
<line x1="89.81" y1="384" x2="89.81" y2="385.8" stroke="#2a2a2a" stroke-width="0.9"/>
<line x1="106.13" y1="384" x2="106.13" y2="385.8" stroke="#2a2a2a" stroke-width="0.9"/>
<line x1="117.71" y1="384" x2="117.71" y2="385.8" stroke="#2a2a2a" stroke-width="0.9"/>
<line x1="126.69" y1="384" x2="126.69" y2="385.8" stroke="#2a2a2a" stroke-width="0.9"/>
<line x1="134.03" y1="384" x2="134.03" y2="385.8" stroke="#2a2a2a" stroke-width="0.9"/>
<line x1="140.24" y1="384" x2="140.24" y2="385.8" stroke="#2a2a2a" stroke-width="0.9"/>
<line x1="145.62" y1="384" x2="145.62" y2="385.8" stroke="#2a2a2a" stroke-width="0.9"/>
<line x1="150.36" y1="384" x2="150.36" y2="385.8" stroke="#2a2a2a" stroke-width="0.9"/>
<line x1="182.51" y1="384" x2="182.51" y2="385.8" stroke="#2a2a2a" stroke-width="0.9"/>
<line x1="198.83" y1="384" x2="198.83" y2="385.8" stroke="#2a2a2a" stroke-width="0.9"/>
<line x1="210.41" y1="384" x2="210.41" y2="385.8" stroke="#2a2a2a" stroke-width="0.9"/>
<line x1="219.39" y1="384" x2="219.39" y2="385.8" stroke="#2a2a2a" stroke-width="0.9"/>
<line x1="226.73" y1="384" x2="226.73" y2="385.8" stroke="#2a2a2a" stroke-width="0.9"/>
<line x1="232.94" y1="384" x2="232.94" y2="385.8" stroke="#2a2a2a" stroke-width="0.9"/>
<line x1="238.32" y1="384" x2="238.32" y2="385.8" stroke="#2a2a2a" stroke-width="0.9"/>
<line x1="243.06" y1="384" x2="243.06" y2="385.8" stroke="#2a2a2a" stroke-width="0.9"/>
<text x="162.2" y="406.9" font-size="9.9" text-anchor="middle" fill="#000" stroke="#000" stroke-width="0.3" font-weight="bold" >Incident Power (mW/cm<tspan dy="-3.5" font-size="6.5">2</tspan><tspan dy="3.5">)</tspan></text>
<text transform="translate(22.8 309) rotate(-90)" x="0" y="0" font-size="10.0" text-anchor="middle" fill="#000" stroke="#000" stroke-width="0.3" font-weight="bold">Responsivity (A/W)</text>
<text transform="translate(301 309.6) rotate(-90)" x="0" y="0" font-size="10.1" text-anchor="middle" fill="#000" stroke="#000" stroke-width="0.3" font-weight="bold">D* (Jones)</text>
<text x="2.8" y="230.7" font-size="14.5" text-anchor="start" fill="#000" stroke="#000" stroke-width="0.3" font-weight="bold" >(c)</text>
<line x1="68.66" y1="262.68" x2="164.84" y2="306.42" stroke="#ff7410" stroke-width="2.0"/>
<line x1="175.94" y1="310.95" x2="202.36" y2="320.55" stroke="#ff7410" stroke-width="2.0"/>
<line x1="213.81" y1="324.11" x2="225.69" y2="327.19" stroke="#ff7410" stroke-width="2.0"/>
<line x1="237.5" y1="328.92" x2="255.3" y2="329.58" stroke="#ff7410" stroke-width="2.0"/>
<line x1="68.48" y1="297.59" x2="164.92" y2="341.31" stroke="#0a16f0" stroke-width="2.0"/>
<line x1="175.67" y1="345.63" x2="202.53" y2="355.07" stroke="#0a16f0" stroke-width="2.0"/>
<line x1="213.57" y1="358.63" x2="225.93" y2="362.27" stroke="#0a16f0" stroke-width="2.0"/>
<line x1="237.3" y1="364.04" x2="255.5" y2="364.46" stroke="#0a16f0" stroke-width="2.0"/>
<polygon points="63.2,255.3 68.1,260.2 63.2,265.1 58.3,260.2" fill="#ff7410"/>
<polygon points="170.3,304 175.2,308.9 170.3,313.8 165.4,308.9" fill="#ff7410"/>
<polygon points="208,317.7 212.9,322.6 208,327.5 203.1,322.6" fill="#ff7410"/>
<polygon points="231.5,323.8 236.4,328.7 231.5,333.6 226.6,328.7" fill="#ff7410"/>
<polygon points="261.3,324.9 266.2,329.8 261.3,334.7 256.4,329.8" fill="#ff7410"/>
<rect x="59.6" y="291.6" width="7.2" height="7.2" fill="#1024f0"/>
<rect x="166.6" y="340.1" width="7.2" height="7.2" fill="#1024f0"/>
<rect x="204.4" y="353.4" width="7.2" height="7.2" fill="#1024f0"/>
<rect x="227.9" y="360.3" width="7.2" height="7.2" fill="#1024f0"/>
<rect x="257.7" y="361" width="7.2" height="7.2" fill="#1024f0"/>
<line x1="119.8" y1="245.7" x2="66" y2="245.7" stroke="#ff7410" stroke-width="1.3"/>
<polygon points="62.5,245.7 69.5,243.2 69.5,248.2" fill="#ff7410"/>
<line x1="212" y1="347.6" x2="262" y2="347.6" stroke="#0a16f0" stroke-width="1.3"/>
<polygon points="266.5,347.6 259.5,345.1 259.5,350.1" fill="#1024f0"/>
<line x1="346" y1="363.01" x2="349" y2="363.01" stroke="#2a2a2a" stroke-width="0.9"/>
<text x="344.2" y="366.31" font-size="9.5" text-anchor="end" fill="#000" stroke="#000" stroke-width="0.3" font-weight="bold" >120</text>
<line x1="346" y1="303.4" x2="349" y2="303.4" stroke="#2a2a2a" stroke-width="0.9"/>
<text x="344.2" y="306.7" font-size="9.5" text-anchor="end" fill="#000" stroke="#000" stroke-width="0.3" font-weight="bold" >150</text>
<line x1="346" y1="243.79" x2="349" y2="243.79" stroke="#2a2a2a" stroke-width="0.9"/>
<text x="344.2" y="247.09" font-size="9.5" text-anchor="end" fill="#000" stroke="#000" stroke-width="0.3" font-weight="bold" >180</text>
<line x1="347.2" y1="333.2" x2="349" y2="333.2" stroke="#2a2a2a" stroke-width="0.9"/>
<line x1="347.2" y1="273.59" x2="349" y2="273.59" stroke="#2a2a2a" stroke-width="0.9"/>
<line x1="349" y1="382.5" x2="349" y2="385.5" stroke="#2a2a2a" stroke-width="0.9"/>
<text x="349" y="395.5" font-size="9.5" text-anchor="middle" fill="#000" stroke="#000" stroke-width="0.3" font-weight="bold" >0</text>
<line x1="420.33" y1="382.5" x2="420.33" y2="385.5" stroke="#2a2a2a" stroke-width="0.9"/>
<text x="420.33" y="395.5" font-size="9.5" text-anchor="middle" fill="#000" stroke="#000" stroke-width="0.3" font-weight="bold" >400</text>
<line x1="491.67" y1="382.5" x2="491.67" y2="385.5" stroke="#2a2a2a" stroke-width="0.9"/>
<text x="491.67" y="395.5" font-size="9.5" text-anchor="middle" fill="#000" stroke="#000" stroke-width="0.3" font-weight="bold" >800</text>
<line x1="563" y1="382.5" x2="563" y2="385.5" stroke="#2a2a2a" stroke-width="0.9"/>
<text x="563.5" y="395.5" font-size="9.5" text-anchor="middle" fill="#000" stroke="#000" stroke-width="0.3" font-weight="bold" >1200</text>
<line x1="384.67" y1="382.5" x2="384.67" y2="384.3" stroke="#2a2a2a" stroke-width="0.9"/>
<line x1="456" y1="382.5" x2="456" y2="384.3" stroke="#2a2a2a" stroke-width="0.9"/>
<line x1="527.33" y1="382.5" x2="527.33" y2="384.3" stroke="#2a2a2a" stroke-width="0.9"/>
<text x="458.2" y="404.8" font-size="9.8" text-anchor="middle" fill="#000" stroke="#000" stroke-width="0.3" font-weight="bold" >Time (s)</text>
<text transform="translate(328.3 309) rotate(-90)" x="0" y="0" font-size="9.9" text-anchor="middle" fill="#000" stroke="#000" stroke-width="0.3" font-weight="bold">Current (nA)</text>
<text x="309.8" y="230.4" font-size="14.5" text-anchor="start" fill="#000" stroke="#000" stroke-width="0.3" font-weight="bold" >(d)</text>
<polyline points="349,348.48 349.25,348 349.5,352.55 349.75,352.22 350,350.68 350.25,347.62 350.5,351.18 350.75,346.52 351,348.12 351.25,353.6 351.5,349.77 351.75,350.46 352,355.32 352.25,353.93 352.5,351.78 352.75,352.42 353,353.97 353.25,349.92 353.5,328.78 353.75,313.74 354,302.23 354.25,300.85 354.5,296.84 354.75,295.43 355,297.07 355.25,294.1 355.5,293.99 355.75,292.8 356,291.29 356.25,291.02 356.5,289.51 356.75,287.97 357,287.35 357.25,285.06 357.5,284.61 357.75,281.72 358,280.41 358.25,279.41 358.5,277.07 358.75,271.73 359,269.44 359.25,272.71 359.5,273.22 359.75,277.62 360,278.02 360.25,280.37 360.5,269.83 360.75,280.29 361,270.67 361.25,269.17 361.5,268.77 361.75,272.59 362,270.37 362.25,279.96 362.5,274.09 362.75,280.63 363,272.3 363.25,281 363.5,278.96 363.75,281.62 364,272.15 364.25,279.57 364.5,277.07 364.75,282.16 365,286.59 365.25,291.76 365.5,298.16 365.75,305.72 366,312.05 366.25,317.37 366.5,320.07 366.75,321.51 367,323.22 367.25,323.53 367.5,327.14 367.75,327.23 368,323.06 368.25,324.72 368.5,328.24 368.75,325.65 369,324.27 369.25,329.63 369.5,328.05 369.75,331.07 370,332.59 370.25,330.41 370.5,333.3 370.75,331.98 371,327.5 371.25,327.22 371.5,328.62 371.75,330.57 372,332.11 372.25,327.88 372.5,331.94 372.75,332.46 373,332.72 373.25,333.33 373.5,335.56 373.75,334.03 374,332.24 374.25,333.35 374.5,335.84 374.75,337.2 375,341.37 375.25,341.99 375.5,341.19 375.75,341.36 376,341.53 376.25,342.69 376.5,338.79 376.75,341.05 377,343.38 377.25,342.5 377.5,346.96 377.75,347.47 378,347.28 378.25,349.6 378.5,345.77 378.75,348.91 379,351.16 379.25,353.91 379.5,351.31 379.75,352.44 380,350.27 380.25,352.01 380.5,350.48 380.75,352.41 381,353.31 381.25,356.1 381.5,352.78 381.75,350.48 382,347.51 382.25,350.52 382.5,348.58 382.75,349.22 383,350.03 383.25,348.1 383.5,348.73 383.75,352.87 384,352.14 384.25,353.74 384.5,350.91 384.75,355.04 385,358.92 385.25,357.79 385.5,356.4 385.75,359.19 386,359.08 386.25,358.67 386.5,356.86 386.75,358.2 387,355.93 387.25,354.63 387.5,359.83 387.75,353.01 388,354.85 388.25,358 388.5,357.99 388.75,359.08 389,364.13 389.25,358.33 389.5,358.22 389.75,359.71 390,357.61 390.25,357.52 390.5,354.6 390.75,353.42 391,352.84 391.25,358.01 391.5,355.85 391.75,356.98 392,355.82 392.25,355.18 392.5,357.52 392.75,355.4 393,354.52 393.25,354.04 393.5,358.72 393.75,360.29 394,358.13 394.25,354.33 394.5,353.86 394.75,357.65 395,356.81 395.25,354.79 395.5,356.11 395.75,358.08 396,358.89 396.25,353.69 396.5,340.12 396.75,321.44 397,313.51 397.25,307.83 397.5,301.92 397.75,298.5 398,296.36 398.25,294.32 398.5,292.13 398.75,290.15 399,284.73 399.25,281.05 399.5,284.64 399.75,288.04 400,282.76 400.25,279.44 400.5,287.74 400.75,283.11 401,290.4 401.25,283.53 401.5,282.28 401.75,289.46 402,290.06 402.25,282.38 402.5,279.98 402.75,279.12 403,288.78 403.25,280.09 403.5,285.55 403.75,276.34 404,267.72 404.25,276.77 404.5,285.31 404.75,280.12 405,281.44 405.25,286.62 405.5,289.25 405.75,290.92 406,286.68 406.25,288.28 406.5,285.85 406.75,287.96 407,289.96 407.25,293.19 407.5,296.49 407.75,299.13 408,302.8 408.25,307.73 408.5,312.66 408.75,316.77 409,319.45 409.25,321.38 409.5,322.88 409.75,322.86 410,323.6 410.25,319.68 410.5,319.5 410.75,317.99 411,325.42 411.25,327.64 411.5,325.6 411.75,325.6 412,328.35 412.25,328.97 412.5,325.28 412.75,324.65 413,324.82 413.25,325.59 413.5,329.34 413.75,326.1 414,329.89 414.25,334.36 414.5,332.17 414.75,330.98 415,330.24 415.25,329.93 415.5,328.32 415.75,331.95 416,332.31 416.25,338.19 416.5,337.9 416.75,335.18 417,339.87 417.25,341.33 417.5,344.45 417.75,340.81 418,339.9 418.25,342.27 418.5,340.89 418.75,342.63 419,340.2 419.25,341.85 419.5,344.16 419.75,342.85 420,341.92 420.25,348.41 420.5,343.87 420.75,343.95 421,343.32 421.25,336.82 421.5,346.06 421.75,343.61 422,346.37 422.25,340.63 422.5,343.01 422.75,347.92 423,344.55 423.25,342.06 423.5,345.93 423.75,349.43 424,349.47 424.25,347.19 424.5,348.2 424.75,348.03 425,350.98 425.25,348.35 425.5,348.67 425.75,346.85 426,347.45 426.25,352.65 426.5,352.03 426.75,350.43 427,352.98 427.25,354.58 427.5,354.13 427.75,353.22 428,353.82 428.25,353.33 428.5,354.04 428.75,357.23 429,358.23 429.25,356.6 429.5,351.81 429.75,352.72 430,354.28 430.25,350.97 430.5,353.22 430.75,354.74 431,351.75 431.25,353.76 431.5,354.4 431.75,354.94 432,352.32 432.25,353.3 432.5,354.03 432.75,353.62 433,357.28 433.25,355.91 433.5,355.41 433.75,358.92 434,356.93 434.25,360.34 434.5,357.64 434.75,356.77 435,357.46 435.25,357.24 435.5,360.02 435.75,356.17 436,357.62 436.25,357.95 436.5,360.7 436.75,358.47 437,355.69 437.25,357.73 437.5,354.88 437.75,352.63 438,353.99 438.25,355.94 438.5,351.44 438.75,353.41 439,341.75 439.25,327.17 439.5,316.89 439.75,315.35 440,312.9 440.25,310.53 440.5,308.47 440.75,306.74 441,305.15 441.25,302.84 441.5,299.83 441.75,303.34 442,300.67 442.25,298.87 442.5,300.41 442.75,295.99 443,294.63 443.25,293.15 443.5,293.62 443.75,292.95 444,291.18 444.25,292.07 444.5,289.05 444.75,287.87 445,286.09 445.25,289.77 445.5,284.76 445.75,288.03 446,281.5 446.25,284.93 446.5,285.09 446.75,285.11 447,281.23 447.25,279.81 447.5,279.57 447.75,283.27 448,279.69 448.25,278.32 448.5,276.14 448.75,273.6 449,269.76 449.25,262.56 449.5,261.55 449.75,267.83 450,272.74 450.25,275.61 450.5,278.58 450.75,280.77 451,284.98 451.25,289.25 451.5,293.33 451.75,296.96 452,301.35 452.25,305.05 452.5,309.03 452.75,311.38 453,314.84 453.25,318.44 453.5,321.89 453.75,329.08 454,326.02 454.25,324.22 454.5,324.32 454.75,329.5 455,326.16 455.25,328.25 455.5,329.32 455.75,334.66 456,333.03 456.25,333.26 456.5,331.55 456.75,331.72 457,332.58 457.25,337.75 457.5,340.45 457.75,337.32 458,336.32 458.25,338.74 458.5,342.13 458.75,342.51 459,338.99 459.25,340.02 459.5,339.59 459.75,341.43 460,337.88 460.25,343.7 460.5,344.99 460.75,345.59 461,346 461.25,345.62 461.5,346.64 461.75,343.43 462,347.65 462.25,340.87 462.5,344.66 462.75,345.49 463,344.52 463.25,347.03 463.5,343.41 463.75,344.28 464,343.26 464.25,340.47 464.5,345.15 464.75,345.81 465,344.47 465.25,349.51 465.5,348.3 465.75,348.72 466,344.15 466.25,348.87 466.5,347.58 466.75,349.26 467,351.55 467.25,348.27 467.5,349.51 467.75,348.74 468,354.52 468.25,352.18 468.5,350.95 468.75,352.56 469,354.14 469.25,351.64 469.5,355.26 469.75,351.5 470,354.99 470.25,354.18 470.5,359.9 470.75,354.77 471,360 471.25,355.29 471.5,354.4 471.75,354.84 472,350.44 472.25,351.65 472.5,356.26 472.75,353.63 473,351.04 473.25,352.79 473.5,354.44 473.75,358.94 474,359.05 474.25,356.99 474.5,358.22 474.75,356.84 475,357.75 475.25,357.35 475.5,357.61 475.75,358.66 476,357.85 476.25,358.5 476.5,356.05 476.75,357.75 477,361.62 477.25,364.12 477.5,364.25 477.75,362.25 478,360.62 478.25,359.44 478.5,359.07 478.75,359.24 479,356.28 479.25,362.34 479.5,362.74 479.75,363.16 480,361.66 480.25,359.57 480.5,360.24 480.75,363.73 481,363.67 481.25,367.14 481.5,363.74 481.75,363.07 482,360.28 482.25,358.28 482.5,338.9 482.75,321.23 483,317.41 483.25,313.27 483.5,309.94 483.75,305.54 484,301.24 484.25,299.86 484.5,300.38 484.75,297.24 485,297.04 485.25,300.02 485.5,298.18 485.75,295.1 486,296.12 486.25,292.07 486.5,292.77 486.75,292.8 487,289.57 487.25,289.27 487.5,288.46 487.75,287.34 488,285.07 488.25,283.85 488.5,285.96 488.75,282.18 489,283.59 489.25,278.71 489.5,277.15 489.75,282.26 490,282.91 490.25,274.23 490.5,275.64 490.75,286.76 491,275.6 491.25,278.77 491.5,282.89 491.75,288.98 492,288.54 492.25,278.3 492.5,286.27 492.75,288.53 493,290.62 493.25,292.7 493.5,294.69 493.75,297.03 494,299.03 494.25,300.52 494.5,302.46 494.75,304 495,307.82 495.25,310.94 495.5,313.62 495.75,317.97 496,322.11 496.25,323.61 496.5,325.6 496.75,328.03 497,329.32 497.25,326.97 497.5,330.64 497.75,333.21 498,334.73 498.25,334.2 498.5,333.96 498.75,334.07 499,338.41 499.25,338.33 499.5,336.1 499.75,342.02 500,333.7 500.25,338.07 500.5,335.98 500.75,336.2 501,337.17 501.25,337.31 501.5,333.19 501.75,336.22 502,335.68 502.25,334.18 502.5,336.07 502.75,335.76 503,337.98 503.25,339 503.5,340.33 503.75,343.05 504,339.24 504.25,337.27 504.5,340.94 504.75,342.21 505,345.45 505.25,347.24 505.5,348.87 505.75,347.48 506,345.31 506.25,347.2 506.5,349.04 506.75,349.1 507,349.69 507.25,346.03 507.5,348.57 507.75,351.52 508,351.47 508.25,353.24 508.5,353.1 508.75,348.78 509,352.11 509.25,349.15 509.5,351.19 509.75,350.89 510,349.52 510.25,350.82 510.5,354.24 510.75,351.37 511,354.89 511.25,349.51 511.5,352.51 511.75,350.5 512,353.7 512.25,353.62 512.5,353.89 512.75,355.07 513,354.23 513.25,359.47 513.5,360.61 513.75,357.32 514,355.95 514.25,353.63 514.5,355.43 514.75,353.46 515,356.49 515.25,359.45 515.5,355.82 515.75,355.66 516,355.28 516.25,352.9 516.5,356.65 516.75,360.42 517,361.57 517.25,358.87 517.5,356.38 517.75,359.35 518,359.43 518.25,361.69 518.5,361.21 518.75,356.98 519,361.67 519.25,356.81 519.5,356.82 519.75,356.8 520,351.49 520.25,357.26 520.5,357.48 520.75,361.06 521,360.82 521.25,356.81 521.5,357.86 521.75,360.88 522,357.75 522.25,357.46 522.5,359.04 522.75,359.19 523,364.39 523.25,360.51 523.5,359.86 523.75,358.52 524,358.88 524.25,362.2 524.5,359.07 524.75,358.63 525,357.1 525.25,339.91 525.5,321.83 525.75,318.41 526,315.68 526.25,311.94 526.5,307.85 526.75,304.65 527,303.61 527.25,300.18 527.5,299.32 527.75,299.8 528,298.32 528.25,297.32 528.5,297.57 528.75,296.12 529,295.05 529.25,296.8 529.5,293.67 529.75,293.3 530,289.42 530.25,288.78 530.5,287.91 530.75,287.7 531,285.64 531.25,292.6 531.5,281.63 531.75,283.62 532,290.31 532.25,285.58 532.5,282.94 532.75,287.49 533,287.77 533.25,288.31 533.5,287.3 533.75,284.4 534,280.19 534.25,282.97 534.5,285.72 534.75,279.12 535,284.64 535.25,288.88 535.5,284.33 535.75,283.23 536,281.77 536.25,286.51 536.5,283.28 536.75,287.83 537,290.36 537.25,293.58 537.5,295.97 537.75,299.03 538,301.81 538.25,304.79 538.5,307.3 538.75,310.89 539,314.77 539.25,318.13 539.5,321.67 539.75,323.07 540,325.43 540.25,328.12 540.5,329.62 540.75,331.21 541,328.45 541.25,333.66 541.5,329.91 541.75,331.88 542,329.03 542.25,333.39 542.5,333.54 542.75,334.41 543,333.08 543.25,335 543.5,336.48 543.75,333.8 544,338.48 544.25,340.45 544.5,338.3 544.75,343.79 545,345.79 545.25,343.84 545.5,344.12 545.75,343.61 546,344.6 546.25,345.25 546.5,345.32 546.75,347.61 547,343.54 547.25,346.65 547.5,345.16 547.75,344.23 548,346.59 548.25,346.47 548.5,350.99 548.75,351.7 549,349.61 549.25,346.9 549.5,349.28 549.75,345 550,345.78 550.25,350.15 550.5,351.76 550.75,354.66 551,349.88 551.25,352.88 551.5,352.13 551.75,349.17 552,350.49 552.25,349.45 552.5,349.86 552.75,352.81 553,353.56 553.25,358.89 553.5,355.04 553.75,352.16 554,355.75 554.25,349.26 554.5,354.69 554.75,357.92 555,353.64 555.25,351.05 555.5,351.32 555.75,355.73 556,351.75 556.25,352.08 556.5,351.08 556.75,356.97 557,355.65 557.25,354.31 557.5,355.02 557.75,355.53 558,353.72 558.25,351.85 558.5,355.79 558.75,359.1 559,360.18 559.25,357.3 559.5,354.92 559.75,360.51 560,359.58 560.25,354.05 560.5,356.81 560.75,351.97 561,351.94 561.25,354.26 561.5,350.57 561.75,355.89 562,356.8 562.25,353.94 562.5,355.87 562.75,356.47 563,358.19" fill="none" stroke="#ff7c0a" stroke-width="2.1" stroke-linejoin="round" stroke-linecap="round" />
<line x1="354.3" y1="239.6" x2="377" y2="239.6" stroke="#ff7c0a" stroke-width="2.0"/>
<text x="379.2" y="243" font-size="9.5" text-anchor="start" fill="#000" stroke="#000" stroke-width="0.3" font-weight="bold" >WS<tspan dy="2.5" font-size="6.5">2</tspan><tspan dy="-2.5">/AIGS-QDs</tspan></text>
<rect x="53" y="17.5" width="219.5" height="163.2" fill="none" stroke="#2a2a2a" stroke-width="1"/>
<rect x="346.2" y="17.3" width="217.8" height="161.4" fill="none" stroke="#2a2a2a" stroke-width="1"/>
<rect x="52.5" y="222" width="219" height="162" fill="none" stroke="#2a2a2a" stroke-width="1"/>
<rect x="349" y="224.1" width="214" height="158.4" fill="none" stroke="#2a2a2a" stroke-width="1"/>
</svg></body></html>
